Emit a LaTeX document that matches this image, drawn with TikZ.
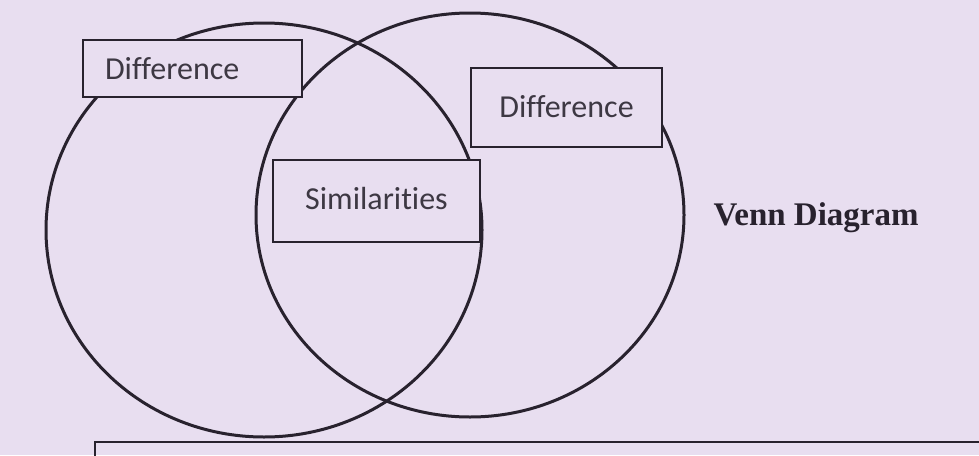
\documentclass[tikz,border=0pt]{standalone}
\usepackage{fontspec}
\setmainfont{Liberation Serif}
\newfontfamily\boxfont[Ligatures={NoCommon}]{Carlito}
\definecolor{paper}{RGB}{232,222,240}
\definecolor{ink}{RGB}{40,34,46}
\begin{document}
\begin{tikzpicture}[x=1pt,y=-1pt,
  venn/.style={draw=ink,line width=3pt},
  labelbox/.style={draw=ink,line width=2.4pt,fill=paper,font=\boxfont\fontsize{32}{36}\selectfont,text=ink!90,inner sep=0pt},
  title/.style={font=\bfseries\fontsize{33}{38}\selectfont,text=ink}]
\fill[paper] (0,0) rectangle (979,455);
\useasboundingbox (0,0) rectangle (979,455);
% circles
\draw[venn] (264,230) ellipse [x radius=218pt, y radius=207pt];
\draw[venn] (470,215) ellipse [x radius=214pt, y radius=202pt];
% boxes
\node[labelbox,minimum width=219pt,minimum height=57pt,text width=175pt,inner xsep=22pt,align=left] (d1) at (192.5,68.5) {Difference};
\node[labelbox,minimum width=191pt,minimum height=79pt,align=center] (d2) at (566.5,107.5) {\raisebox{3pt}{Difference}};
\node[labelbox,minimum width=207pt,minimum height=82pt,align=center] (s) at (376.5,201) {\raisebox{6pt}{Similarities}};
% title
\node[title,anchor=west] (t) at (710,218) {Venn Diagram};
% bottom frame
\coordinate (bl) at (95,470);
\coordinate (tl) at (95,442);
\coordinate (tr) at (979,442);
\draw[draw=ink,line width=2pt] (bl) -- (tl) -- (tr);
\end{tikzpicture}
\end{document}
